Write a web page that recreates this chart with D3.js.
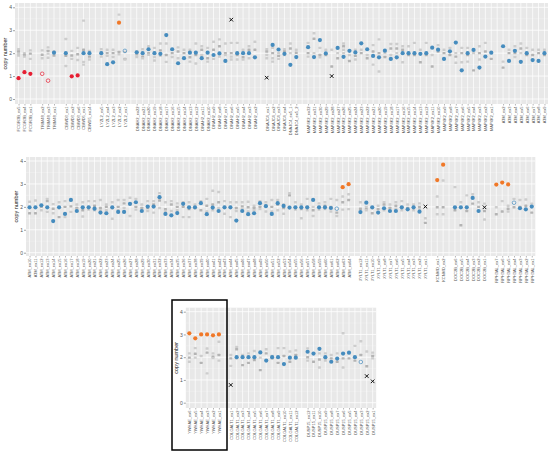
<!DOCTYPE html>
<html><head><meta charset="utf-8">
<script src="https://cdn.jsdelivr.net/npm/d3@7"></script>
<style>body{margin:0;background:#fff} text{font-family:"Liberation Sans",Arial,sans-serif}</style>
</head><body><svg id="c" width="550" height="455"></svg>
<script>
function exons(gene, from, to){const s=from<=to?1:-1;const o=[];for(let i=from;s>0?i<=to:i>=to;i+=s)o.push(gene+"_ex"+i);return o;}

// ---------- Panel 1 ----------
const fcgr3bLabels=["FCGR3B_ex5","FCGR3B_ex4","FCGR3B_ex1"];
const fcgr3bValues=[0.91,1.17,1.1];
const fcgr3bTypes=["r","r","r"];
const fcgr3bGrey=[[2.17,2.07,1.97,1.9],[2.0,1.92,1.85],[2.12,1.98,1.75]];

const trim48Labels=["TRIM48_ex2","TRIM48_ex3","TRIM48_ex1"];
const trim48Values=[1.1,0.8,2.02];
const trim48Types=["or","or","b"];
const trim48Grey=[[2.12,1.93,1.78],[2.25,2.1,1.98,1.8],[2.07,1.9]];

const cbwdLabels=["CBWD3_ex1","CBWD3_ex2","CBWD3_ex6","CBWD5_ex1","CBWD5_ex14"];
const cbwdValues=[2.0,0.99,1.03,2.0,2.0];
const cbwdTypes=["b","r","r","b","b"];
const cbwdGrey=[[2.62,1.88,1.44],[2.1,1.9,1.75],[2.23,1.95,1.7],[3.42,2.15,1.62,1.5],[2.1,1.85,1.72]];

const lyzl2Labels=exons("LYZL2",5,1);
const lyzl2Values=[2.0,1.52,1.6,3.33,2.1];
const lyzl2Types=["b","b","b","o","ob"];
const lyzl2Grey=[[2.17,2.02,1.85],[2.15,2.0,1.88],[2.15,2.0,1.83],[3.68,2.05,1.95],[2.05,1.75,1.72]];

const dnah2Labels=exons("DNAH2",22,2);
const dnah2Values=[2.04,2.0,2.17,2.0,1.97,2.79,2.17,1.56,1.78,2.02,2.02,1.78,2.02,1.92,1.99,1.66,3.46,2.0,2.0,2.0,1.82];
const dnah2Types=["b","b","b","b","b","b","b","b","b","b","b","b","b","b","b","b","x","b","b","b","b"];
const dnah2Grey=[[2.07,1.95,1.83],[2.17,1.85,1.78],[2.3,2.0,1.93],[2.23,2.02,1.83,1.68],[2.42,2.12,1.88],[2.42,1.92,1.62],[2.15,2.0,1.83],[2.25,2.07,1.78],[2.15,2.0],[2.15,1.82,1.63],[2.42,1.92,1.55],[2.3,2.15,1.92],[2.23,1.78,1.63],[2.5,2.15,1.75],[2.6,2.3,1.85],[2.42,2.0,1.92],[2.45,2.0,1.85,1.72],[2.45,1.92,1.72],[2.15,1.82,1.72],[2.3,2.15,1.78],[2.5,2.15]];

const dnajc4Labels=["DNAJC4_ex1","DNAJC4_ex2","DNAJC4_ex3","DNAJC4_ex4","DNAJC4_ex5_1","DNAJC4_ex5_2"];
const dnajc4Values=[0.93,2.36,2.16,1.97,1.49,1.83];
const dnajc4Types=["x","b","b","b","b","b"];
const dnajc4Grey=[[2.17,2.07,1.92,1.78],[2.23,2.0,1.78,1.63],[2.0,1.88,1.75],[2.17,2.07,1.92],[2.42,2.2,2.0],[2.15,2.02]];

const map4k2Labels=exons("MAP4K2",32,1);
const map4k2Values=[2.26,1.83,2.57,1.99,1.0,2.23,1.84,2.1,2.03,2.43,2.17,1.88,1.82,2.11,1.75,1.82,2.0,2.0,2.0,1.97,2.0,2.24,2.15,1.75,2.08,2.46,1.25,2.0,2.14,1.37,1.85,2.02];
const map4k2Types=["b","b","b","b","x","b","b","b","b","b","b","b","b","b","b","b","b","b","b","b","b","b","b","b","b","b","b","b","b","b","b","b"];
const map4k2Grey=[[2.45,2.0,1.85],[2.87,2.63,2.0],[2.23,1.92,1.82],[2.15,1.92],[2.15,1.42],[2.0,1.78],[2.42,2.3,2.15,2.0],[1.92,1.66],[2.15,1.88,1.72],[2.15,2.0],[1.92,1.78],[2.35,2.07,1.5],[2.6,2.0,1.2],[2.0,1.83],[2.4,2.2,1.92],[2.4,2.2,2.0],[2.3,2.15,1.6],[2.3,1.92],[2.45,1.92],[2.15,1.6],[2.45,1.92],[1.92,1.42],[2.35,2.07],[2.15,2.0],[2.23,1.92],[2.0,1.85,1.58],[2.23,2.0,1.6],[2.23,1.92,1.63],[2.0,1.25],[2.3,2.0,1.72],[2.45,2.07],[2.0,1.75]];

const atmALabels=exons("ATM",2,9);
const atmAValues=[2.3,1.66,2.1,1.62,2.0,1.7,1.66,2.0];
const atmATypes=["b","b","b","b","b","b","b","b"];
const atmAGrey=[[1.63,1.37],[2.15,2.0],[2.3,2.0,1.83],[2.42,2.2,2.0],[2.23,1.92],[2.15,1.92],[2.15,2.0],[2.15,1.92]];

// ---------- Panel 2 ----------
const atmBLabels=exons("ATM",10,64);
const atmBValues=[1.98,1.98,2.07,1.98,1.38,1.98,1.69,2.3,1.82,1.98,1.98,1.92,1.75,1.72,1.98,1.78,1.78,2.13,2.2,1.82,2.01,2.01,2.42,1.69,1.63,1.73,2.13,
 1.98,1.98,2.16,1.68,1.97,1.82,1.98,1.98,1.4,1.82,1.68,1.72,2.16,2.03,1.69,2.16,2.04,1.97,1.98,1.98,1.98,2.3,1.98,1.98,1.95,1.92,2.86,2.99];
const atmBTypes=atmBValues.map((v,i)=>i===52?"ob":(i>52?"o":"b"));
const atmBGrey=[[2.22,1.72],[2.28,1.72],[1.85,2.0],[2.35,2.25,1.78],[2.12,1.92,1.72],[2.2,1.55],[2.25,2.0,1.55],[2.28,2.02,1.78],[2.1,1.95,1.88],[2.2,1.85,1.58],[2.25,2.0,1.88],[2.25,2.05,1.85],[2.3,1.95,1.85],[2.1,2.0,1.85],[2.2,1.95,1.48],[2.3,2.0,1.85],[2.3,2.15,1.95],[2.4,2.1,1.6],[2.35,2.0,1.88],[2.1,1.95,1.85],[2.25,1.95,1.82],[2.25,2.1,1.75],[2.6,2.28,1.95],[2.2,1.9,1.82],[2.25,2.1,1.82],[2.15,2.0,1.85],[2.2,2.0,1.55],
 [2.2,1.9,1.55],[2.1,1.95],[2.25,1.85],[2.35,2.05,1.8],[2.7,2.1,1.85],[2.65,2.2,1.95],[2.25,2.0,1.7],[2.2,2.0,1.55],[2.2,1.95,1.82],[2.2,2.02,1.92],[2.22,1.98,1.8],[2.05,1.95,1.85],[2.25,2.0,1.9],[2.2,2.05,1.8],[2.3,2.0,1.8],[2.3,2.1,1.85],[2.1,1.95,1.7],[2.6,2.5,2.0],[2.2,1.95,1.88],[2.1,1.9,1.5],[2.35,2.0,1.85],[2.0,1.85,1.6],[2.15,2.0,1.88],[2.2,2.05,1.9],[2.35,2.0,1.8],[2.3,1.75,1.6],[2.45,2.2,1.88],[2.55,2.3,1.9]];

const xylt1Labels=exons("XYLT1",12,1);
const xylt1Values=[1.77,2.18,1.98,1.75,1.94,1.82,1.82,1.98,1.89,1.98,1.79,2.01];
const xylt1Types=["b","b","b","b","b","b","b","b","b","b","b","x"];
const xylt1Grey=[[2.2,1.92],[2.0,1.9,1.85],[1.95,1.72],[2.05,1.9],[2.2,2.1,1.85],[2.1,1.95],[2.2,2.05,1.92],[2.25,2.0,1.85],[2.1,1.95],[2.1,1.95,1.85],[2.15,2.0,1.9],[1.5,1.3]];

const kcnmdLabels=["KCNMD_ex1","KCNMD_ex2"];
const kcnmdValues=[3.17,3.84];
const kcnmdTypes=["o","o"];
const kcnmdGrey=[[2.45,1.98,1.68],[3.15,1.98,1.68]];

const doc2bLabels=exons("DOC2B",6,1);
const doc2bValues=[1.98,1.98,1.98,2.39,1.82,1.98];
const doc2bTypes=["b","b","b","b","b","x"];
const doc2bGrey=[[2.86,1.85],[2.2,1.2],[2.5,1.82],[2.55,2.14],[2.2,2.0,1.82],[2.14,1.82,1.45]];

const rph3alLabels=exons("RPH3AL",7,1);
const rph3alValues=[2.97,3.06,2.98,2.18,1.94,1.89,2.01];
const rph3alTypes=["o","o","o","ob","b","b","b"];
const rph3alGrey=[[1.98,1.68],[2.25,1.8],[2.05,1.92,1.8],[2.35,1.98],[2.3,2.0],[2.32,2.05],[2.14,1.75]];

// ---------- Panel 3 ----------
const ywhaeLabels=exons("YWHAE",6,1);
const ywhaeValues=[3.05,2.83,3.0,3.0,2.96,3.0];
const ywhaeTypes=["o","o","o","o","o","o"];
const ywhaeGrey=[[2.17,1.98,1.8],[2.4,2.15,1.98],[2.05,1.75],[2.38,2.2,1.29],[2.17,2.02,1.96],[2.68,2.1,1.85]];

const colgalt1Labels=exons("COLGALT1",1,12);
const colgalt1Values=[0.78,2.0,2.0,2.0,2.0,2.21,1.85,2.0,2.0,1.7,1.98,1.98];
const colgalt1Types=["x","b","b","b","b","b","b","b","b","b","b","b"];
const colgalt1Grey=[[2.1,1.95,1.62],[2.45,2.35,1.95],[2.1,1.65],[2.17,1.75],[2.27,1.88],[1.98,1.43],[2.35,2.17],[2.05,1.95],[2.4,1.75],[2.4,2.05],[2.25,1.8],[2.3,2.1]];

const dusp15Labels=exons("DUSP15",12,1);
const dusp15Values=[2.24,2.16,2.37,2.0,1.8,1.94,2.16,2.2,2.0,1.79,1.17,0.94];
const dusp15Types=["b","b","b","b","b","b","b","b","b","ob","x","x"];
const dusp15Grey=[[2.39,2.0,1.85],[2.17,1.8],[2.17,1.9,1.55],[2.17,1.95,1.85],[2.1,1.95],[2.17,1.8],[3.05,1.95,1.55],[2.17,1.95],[2.5,1.85],[2.7,2.1],[2.25,1.6],[2.2,2.05,1.95]];

const yTicks=[0,1,2,3,4];

function grp(l,v,t,g){return {labels:l,values:v,types:t,grey:g};}
const panels=[
 {left:15,right:548,top:3,bottom:104,y0:99,y4:7.3,titleX:5,
  groups:[grp(fcgr3bLabels,fcgr3bValues,fcgr3bTypes,fcgr3bGrey),grp(trim48Labels,trim48Values,trim48Types,trim48Grey),grp(cbwdLabels,cbwdValues,cbwdTypes,cbwdGrey),grp(lyzl2Labels,lyzl2Values,lyzl2Types,lyzl2Grey),grp(dnah2Labels,dnah2Values,dnah2Types,dnah2Grey),grp(dnajc4Labels,dnajc4Values,dnajc4Types,dnajc4Grey),grp(map4k2Labels,map4k2Values,map4k2Types,map4k2Grey),grp(atmALabels,atmAValues,atmATypes,atmAGrey)]},
 {left:26,right:535.3,top:157,bottom:256,y0:252.7,y4:161,titleX:16,
  groups:[grp(atmBLabels,atmBValues,atmBTypes,atmBGrey),grp(xylt1Labels,xylt1Values,xylt1Types,xylt1Grey),grp(kcnmdLabels,kcnmdValues,kcnmdTypes,kcnmdGrey),grp(doc2bLabels,doc2bValues,doc2bTypes,doc2bGrey),grp(rph3alLabels,rph3alValues,rph3alTypes,rph3alGrey)]},
 {left:185.8,right:376.2,top:307.7,bottom:408,y0:402.7,y4:311.7,titleX:176,
  groups:[grp(ywhaeLabels,ywhaeValues,ywhaeTypes,ywhaeGrey),grp(colgalt1Labels,colgalt1Values,colgalt1Types,colgalt1Grey),grp(dusp15Labels,dusp15Values,dusp15Types,dusp15Grey)]}
];

const colors={b:"#468cbe",r:"#e61e32",o:"#f07828",ob:"#468cbe",or:"#e61e32"};
const svg=d3.select("#c");

panels.forEach(p=>{
  const slots=[];
  p.groups.forEach((g,gi)=>{
    if(gi>0) slots.push(null);
    g.labels.forEach((l,i)=>slots.push({label:l,value:g.values[i],type:g.types[i],grey:g.grey[i]}));
  });
  const idx=d3.range(slots.length);
  const x=d3.scalePoint().domain(idx).range([p.left,p.right]).padding(0.6);
  const y=d3.scaleLinear().domain([0,4]).range([p.y0,p.y4]);
  const g=svg.append("g");
  g.append("rect").attr("x",p.left).attr("y",p.top).attr("width",p.right-p.left).attr("height",p.bottom-p.top).attr("fill","#e8e8e8");
  // minor grid
  g.selectAll(".mn").data([0.5,1.5,2.5,3.5]).join("line").attr("x1",p.left).attr("x2",p.right)
    .attr("y1",d=>y(d)).attr("y2",d=>y(d)).attr("stroke","#f4f4f4").attr("stroke-width",0.4);
  g.selectAll(".mj").data(yTicks).join("line").attr("x1",p.left).attr("x2",p.right)
    .attr("y1",d=>y(d)).attr("y2",d=>y(d)).attr("stroke","#fff").attr("stroke-width",0.8);
  g.selectAll(".vg").data(idx).join("line").attr("x1",d=>x(d)).attr("x2",d=>x(d))
    .attr("y1",p.top).attr("y2",p.bottom).attr("stroke","#fff").attr("stroke-width",0.7);
  // grey points
  const greys=[];
  slots.forEach((s,i)=>{ if(s) s.grey.forEach((v,k)=>greys.push({i,v,k})); });
  g.selectAll(".gp").data(greys).join("rect")
    .attr("x",d=>x(d.i)-1.5).attr("y",d=>y(d.v)-1.2).attr("width",3).attr("height",2.4).attr("rx",0.5)
    .attr("fill",d=>d.k===1?"#b4b4b4":"#cdcdcd");
  // main markers
  const mains=slots.map((s,i)=>s?{i,v:s.value,t:s.type}:null).filter(d=>d);
  g.selectAll(".mf").data(mains.filter(d=>d.t==="b"||d.t==="r"||d.t==="o")).join("circle")
    .attr("cx",d=>x(d.i)).attr("cy",d=>y(d.v)).attr("r",2.1).attr("fill",d=>colors[d.t]);
  g.selectAll(".mo").data(mains.filter(d=>d.t==="ob"||d.t==="or")).join("circle")
    .attr("cx",d=>x(d.i)).attr("cy",d=>y(d.v)).attr("r",1.8).attr("fill","none")
    .attr("stroke",d=>colors[d.t]).attr("stroke-width",0.7);
  g.selectAll(".mx").data(mains.filter(d=>d.t==="x")).join("path")
    .attr("d",d=>{const cx=x(d.i),cy=y(d.v);return `M${cx-1.8},${cy-1.8}L${cx+1.8},${cy+1.8}M${cx-1.8},${cy+1.8}L${cx+1.8},${cy-1.8}`;})
    .attr("stroke","#111").attr("stroke-width",1);
  // y axis
  const ya=g.append("g").attr("transform",`translate(${p.left},0)`)
    .call(d3.axisLeft(y).tickValues(yTicks).tickFormat(d3.format("d")).tickSize(2).tickPadding(1));
  ya.select(".domain").remove();
  ya.selectAll("line").attr("stroke","#444").attr("stroke-width",0.5);
  ya.selectAll("text").attr("font-size",5).attr("fill","#555").attr("font-family","Liberation Sans, Arial, sans-serif");
  // x axis
  const labIdx=idx.filter(i=>slots[i]);
  const xa=g.append("g").attr("transform",`translate(0,${p.bottom})`)
    .call(d3.axisBottom(x).tickValues(labIdx).tickFormat(i=>slots[i].label).tickSize(1.5).tickPadding(1));
  xa.select(".domain").remove();
  xa.selectAll("line").attr("stroke","#444").attr("stroke-width",0.4);
  xa.selectAll("text").attr("font-size",4).attr("fill","#555").attr("font-family","Liberation Sans, Arial, sans-serif")
    .attr("transform","rotate(-90)").attr("text-anchor","end").attr("x",-2.5).attr("y",0).attr("dy","0.35em");
  // y title
  g.append("text").attr("transform",`translate(${p.titleX},${(p.top+p.bottom)/2}) rotate(-90)`)
    .attr("text-anchor","middle").attr("dy","0.35em").attr("font-size",5.5).attr("fill","#111").text("copy number");
});

svg.append("rect").attr("x",172).attr("y",300).attr("width",55).attr("height",150)
  .attr("fill","none").attr("stroke","#000").attr("stroke-width",1.5);
</script></body></html>
